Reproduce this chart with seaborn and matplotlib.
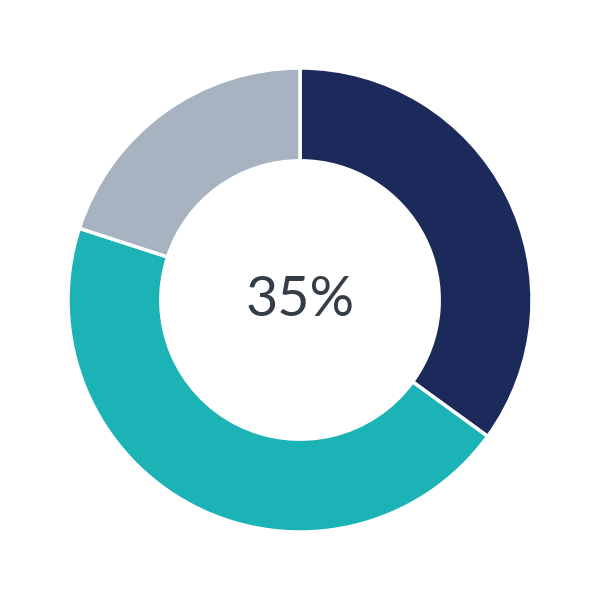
import matplotlib
matplotlib.use("Agg")
import matplotlib.pyplot as plt
import seaborn as sns

# Werte (im Uhrzeigersinn ab 12 Uhr)
segments = ["Anteil", "Rest A", "Rest B"]
shares = [35, 45, 20]
colors = ["#1b2a5b", "#1bb3b6", "#a8b3c1"]
center_label = "35%"

sns.set_style("white")
plt.rcParams['font.family'] = ['Lato', 'DejaVu Sans']

fig = plt.figure(figsize=(6, 6), dpi=100)
ax = fig.add_axes([0, 0, 1, 1])

ax.pie(shares, colors=colors, startangle=90, counterclock=False, radius=1.0,
       wedgeprops=dict(width=0.4, edgecolor="white", linewidth=2.5))
ax.text(0, 0, center_label, ha="center", va="center", fontsize=40,
        color="#353d47", fontweight="normal")

lim = 300 / 232
ax.set_xlim(-lim, lim)
ax.set_ylim(-lim, lim)
ax.set_aspect("equal")
ax.axis("off")

fig.savefig("out.png", dpi=100, facecolor="white")
